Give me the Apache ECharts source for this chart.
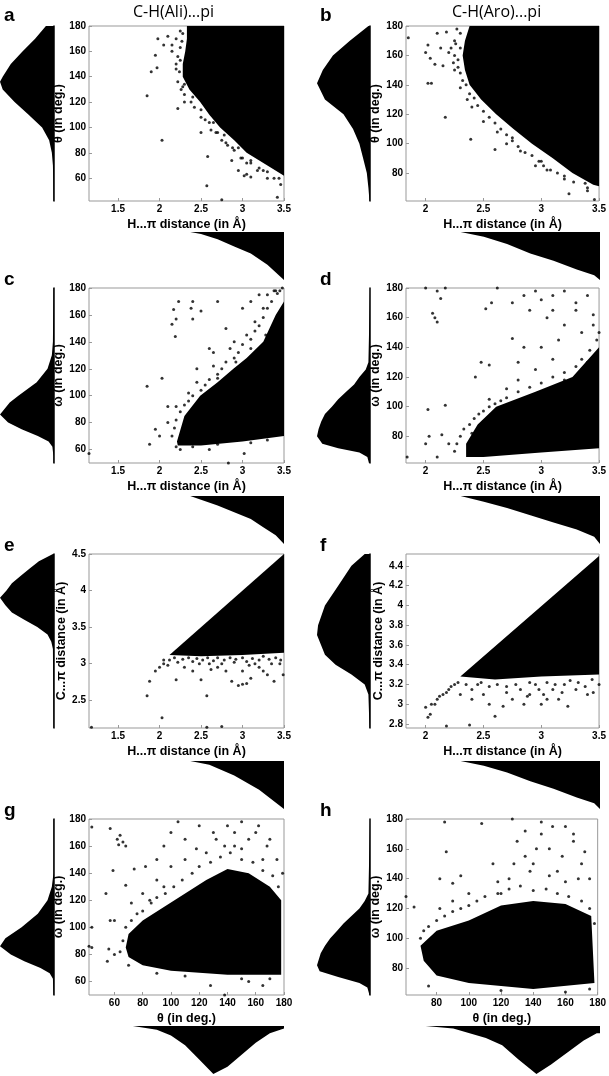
<!DOCTYPE html>
<html lang="en">
<head>
<meta charset="UTF-8">
<title>C-H...pi</title>
<script src="https://cdn.jsdelivr.net/npm/echarts@6/dist/echarts.min.js"></script>
<style>html,body{margin:0;background:#fff}#main{width:609px;height:1076px}</style>
</head>
<body>
<div id="main"></div>
<script>
// ---- data ----
// dense (solid black) regions as outlines, scattered points, marginal histogram profiles (0..1)
var aDense = [[2.33,180],[2.33,170],[2.31,160],[2.28,150],[2.28,140],[2.36,130],[2.49,120],[2.6,110],[2.73,100],[2.9,90],[3.05,80],[3.3,70],[3.5,62],[3.5,180]];
var aPts = [[1.85,125],[1.9,144],[1.95,157],[1.97,147],[2.03,90],[1.98,170],[2.05,165],[2.1,172],[2.15,160],[2.2,150],[2.22,115],[2.28,132],[2.3,120],[2.5,96],[2.58,77],[2.57,54],[2.75,43],[2.87,74],[2.95,66],[3.02,62],[3.05,63],[3.1,61],[3.2,68],[3.3,60],[3.42,45],[3.46,55],[2.6,104],[2.7,96],[2.8,88],[2.9,82],[3.0,76],[3.1,72],[3.25,66],[3.38,60],
  [2.25,176],[2.28,174],[2.2,170],[2.27,168],[2.15,165],[2.25,163],[2.22,156],[2.25,153],[2.2,146],[2.24,144],[2.22,136],[2.3,134],[2.3,126],[2.4,124],[2.42,116],[2.5,114],[2.55,106],[2.65,104],[2.68,96],[2.78,94],[2.82,86],[2.95,84],[2.98,76],[3.1,74],[3.18,66],[3.3,65],[3.44,60],[2.26,130],[2.38,120],[2.5,108],[2.62,98],[2.75,90],[2.88,84],[3.05,72]];
var aLeft = [[180,0.15],[170,0.35],[160,0.58],[150,0.8],[140,0.95],[136,1],[130,0.95],[120,0.73],[110,0.47],[100,0.22],[90,0.09],[80,0.04],[70,0.02],[60,0.015],[42,0.01]];
var aBottom = [[2.37,0],[2.5,0.04],[2.7,0.15],[2.9,0.3],[3.1,0.45],[3.3,0.68],[3.5,1]];

var bDense = [[2.38,180],[2.34,170],[2.32,160],[2.34,150],[2.38,140],[2.48,130],[2.61,120],[2.76,110],[2.92,100],[3.1,90],[3.27,80],[3.45,72],[3.5,71],[3.5,180]];
var bPts = [[1.85,172],[2.0,162],[2.02,167],[2.04,158],[2.02,141],[2.05,141],[2.08,154],[2.1,175],[2.13,165],[2.15,153],[2.18,176],[2.2,162],[2.25,170],[2.17,118],[2.39,103],[2.6,96],[2.75,104],[2.95,85],[3.05,82],[3.24,66],[3.4,68],[3.46,62],[2.25,150],[2.3,138],[2.4,125],[2.5,115],[2.7,100],[3.0,88],[3.2,78],[3.38,73],
  [2.27,178],[2.3,175],[2.26,168],[2.3,165],[2.25,160],[2.28,157],[2.28,152],[2.3,148],[2.32,143],[2.35,140],[2.38,134],[2.42,131],[2.45,126],[2.5,122],[2.55,118],[2.6,114],[2.65,110],[2.7,106],[2.75,102],[2.8,98],[2.86,94],[2.92,92],[2.98,88],[3.02,85],[3.08,82],[3.14,80],[3.2,76],[3.28,74],[3.4,70],[2.22,165],[2.24,155],[2.36,130],[2.62,108],[2.82,95]];
var bLeft = [[180,0.03],[170,0.38],[160,0.7],[150,0.89],[141,1],[130,0.85],[120,0.5],[110,0.32],[100,0.2],[90,0.13],[80,0.06],[70,0.03],[61,0.01]];
var bBottom = [[2.3,0],[2.5,0.1],[2.7,0.25],[2.9,0.45],[3.1,0.6],[3.3,0.78],[3.45,0.9],[3.5,1]];

var cDense = [[2.21,66],[2.22,63],[2.5,63],[3.0,66],[3.5,70],[3.5,170],[3.4,160],[3.25,140],[3.05,128],[2.89,120],[2.7,110],[2.49,100],[2.3,85]];
var cPts = [[1.85,107],[2.03,113],[1.88,64],[1.95,75],[2.0,70],[2.1,92],[2.15,153],[2.17,164],[2.19,144],[2.2,157],[2.23,170],[2.38,165],[2.4,157],[2.4,170],[2.5,163],[2.45,120],[2.6,135],[2.65,132],[2.7,170],[2.8,150],[2.9,140],[3.0,165],[3.1,170],[3.2,175],[3.3,175],[3.4,178],[3.02,57],[2.83,50],[1.15,57],[2.6,60],[3.15,155],[3.25,165],[3.45,178],[2.1,80],[2.2,92],[2.35,102],[2.45,110],[2.65,122],[2.85,135],[3.05,145],
  [2.15,70],[2.18,76],[2.2,82],[2.25,88],[2.3,93],[2.35,96],[2.4,100],[2.5,104],[2.55,108],[2.6,112],[2.7,116],[2.75,120],[2.8,125],[2.9,128],[2.95,132],[3.0,138],[3.1,142],[3.15,148],[3.2,152],[3.25,158],[3.3,165],[3.35,170],[3.42,176],[3.48,180],[3.35,150],[3.38,178],[3.28,145],[3.1,135],[2.92,125],[2.7,113],[2.4,62],[2.7,64],[3.1,65],[3.3,67],[2.2,62],[2.25,60]];
var cLeft = [[180,0.01],[140,0.02],[130,0.04],[120,0.12],[110,0.32],[100,0.66],[95,0.82],[86,1],[80,0.85],[75,0.6],[70,0.3],[66,0.1],[62,0.03],[55,0.01],[50,0.01]];
var cBottom = [[2.37,0],[2.5,0.08],[2.7,0.2],[2.9,0.34],[3.1,0.48],[3.25,0.65],[3.4,0.82],[3.5,1]];

var dDense = [[2.35,75],[2.35,66],[2.5,66],[3.0,69],[3.5,72],[3.5,140],[3.27,120],[2.95,110],[2.61,100],[2.45,88]];
var dPts = [[2.0,180],[2.1,178],[2.13,173],[2.17,180],[2.06,163],[2.08,160],[2.1,157],[2.02,98],[2.17,101],[2.0,75],[2.03,80],[1.84,66],[2.1,66],[2.14,81],[2.2,75],[2.48,130],[2.43,120],[2.55,128],[2.52,166],[2.57,170],[2.62,180],[2.75,146],[2.8,130],[2.85,140],[2.9,165],[3.0,172],[3.05,160],[3.1,175],[3.2,155],[3.3,165],[3.4,175],[3.45,155],[3.0,140],[3.15,145],[3.35,150],[2.7,112],[2.8,118],[2.95,125],[3.1,132],[2.55,105],
  [2.25,70],[2.27,75],[2.3,80],[2.33,85],[2.38,88],[2.42,92],[2.46,95],[2.5,97],[2.55,100],[2.6,102],[2.65,104],[2.7,106],[2.8,110],[2.9,113],[3.0,116],[3.1,120],[3.2,123],[3.3,127],[3.35,132],[3.42,138],[3.48,145],[3.5,150],[3.45,162],[3.3,170],[3.2,178],[3.1,165],[2.95,178],[2.85,175],[2.75,170],[2.4,82],[2.5,90],[2.75,102],[3.2,118],[3.4,130]];
var dLeft = [[180,0.0],[130,0.03],[125,0.08],[120,0.2],[115,0.3],[110,0.45],[105,0.6],[100,0.72],[95,0.85],[90,0.92],[85,0.97],[80,1],[75,0.9],[72,0.6],[69,0.2],[66,0.05],[62,0.02]];
var dBottom = [[2.3,0],[2.5,0.12],[2.7,0.25],[2.9,0.4],[3.1,0.55],[3.3,0.7],[3.45,0.85],[3.5,1]];

var eDense = [[2.12,3.12],[3.5,4.5],[3.5,3.15],[3.0,3.12],[2.5,3.1]];
var ePts = [[1.85,2.56],[1.88,2.76],[1.95,2.9],[2.0,2.95],[2.03,2.26],[2.05,3.0],[2.1,2.98],[2.2,2.78],[2.3,2.95],[2.4,2.9],[2.5,2.78],[2.57,2.56],[2.6,3.0],[2.7,2.95],[2.8,2.9],[2.87,2.76],[2.95,2.7],[3.0,2.72],[3.05,2.73],[3.1,2.8],[3.2,2.95],[3.3,2.85],[3.38,2.76],[3.45,3.0],[3.49,2.85],[2.57,2.13],[2.75,2.14],[1.18,2.13],[2.9,3.02],[3.15,3.0],
  [2.05,3.05],[2.12,3.05],[2.18,3.08],[2.22,3.02],[2.28,3.06],[2.35,3.08],[2.4,3.03],[2.45,3.07],[2.52,3.05],[2.58,3.08],[2.65,3.04],[2.7,3.08],[2.78,3.05],[2.85,3.08],[2.92,3.06],[3.0,3.08],[3.05,3.03],[3.12,3.07],[3.2,3.05],[3.25,3.1],[3.32,3.06],[3.4,3.08],[3.46,3.05],[2.48,3.0],[2.75,3.0],[3.08,2.98],[3.35,3.0],[2.62,2.92],[3.0,2.9],[3.25,2.9]];
var eLeft = [[4.5,0.02],[4.4,0.28],[4.3,0.45],[4.2,0.62],[4.1,0.78],[4.0,0.88],[3.9,1],[3.8,0.9],[3.7,0.78],[3.6,0.55],[3.5,0.31],[3.4,0.12],[3.3,0.05],[3.2,0.02],[2.12,0.01]];
var eBottom = [[2.37,0],[2.6,0.08],[2.9,0.3],[3.2,0.6],[3.5,1]];

var fDense = [[2.3,3.28],[3.5,4.5],[3.5,3.3],[3.0,3.28],[2.6,3.25]];
var fPts = [[2.0,2.97],[2.02,2.87],[2.04,2.9],[2.05,3.0],[2.1,3.05],[2.15,3.1],[2.2,3.15],[2.25,3.2],[2.18,2.78],[2.38,2.79],[2.3,3.1],[2.4,3.05],[2.5,3.1],[2.55,3.0],[2.6,2.88],[2.67,2.98],[2.75,3.05],[2.85,3.0],[2.9,3.1],[3.0,3.0],[3.05,3.05],[3.1,3.15],[3.23,2.98],[3.3,3.15],[3.4,3.1],[3.45,3.12],[2.45,3.2],[2.7,3.18],[2.95,3.2],[3.2,3.2],
  [2.08,3.0],[2.12,3.08],[2.18,3.12],[2.22,3.18],[2.28,3.22],[2.35,3.2],[2.4,3.15],[2.48,3.22],[2.55,3.18],[2.62,3.2],[2.7,3.12],[2.78,3.2],[2.82,3.15],[2.9,3.22],[2.98,3.15],[3.05,3.22],[3.12,3.2],[3.18,3.12],[3.25,3.24],[3.32,3.22],[3.38,3.18],[3.44,3.25],[3.5,3.2],[2.88,3.08],[3.02,3.1],[3.15,3.05]];
var fLeft = [[4.52,0.1],[4.4,0.35],[4.2,0.6],[4.0,0.85],[3.8,0.98],[3.7,1],[3.5,0.85],[3.4,0.65],[3.3,0.35],[3.2,0.1],[3.1,0.03],[2.76,0.01]];
var fBottom = [[2.3,0],[2.5,0.1],[2.7,0.24],[2.9,0.42],[3.1,0.58],[3.3,0.76],[3.45,0.88],[3.5,1]];

var gDense = [[68,85],[70,95],[80,105],[95,115],[110,125],[125,135],[140,143],[155,140],[170,130],[178,120],[178,65],[140,65],[100,68],[80,72],[70,78]];
var gPts = [[44,174],[57,173],[62,165],[63,161],[64,168],[66,163],[68,160],[59,142],[54,125],[57,105],[60,105],[44,100],[42,86],[44,85],[55,75],[56,84],[60,80],[68,131],[74,143],[82,145],[90,150],[95,160],[100,170],[105,178],[120,175],[130,170],[140,175],[150,178],[160,170],[170,165],[175,150],[128,57],[138,50],[155,60],[165,57],[85,120],[95,130],[110,150],[125,155],[145,160],[165,150],
  [66,90],[68,100],[72,105],[76,110],[80,112],[86,118],[90,122],[96,125],[102,130],[108,135],[115,140],[120,145],[128,148],[135,152],[142,155],[150,150],[158,148],[165,142],[172,138],[176,130],[179,140],[132,165],[145,170],[155,165],[162,175],[138,160],[150,158],[168,160],[118,158],[110,165],[100,145],[90,135],[80,125],[72,118],[64,82],[70,72],[90,66],[110,64],[150,62],[170,62]];
var gLeft = [[180,0.01],[140,0.01],[130,0.04],[120,0.12],[110,0.3],[100,0.6],[92,0.9],[86,1],[80,0.8],[75,0.55],[70,0.25],[66,0.08],[62,0.02],[50,0.01]];
var gBottom = [[73,0],[90,0.08],[100,0.2],[110,0.4],[120,0.7],[130,1],[140,0.85],[150,0.6],[160,0.35],[170,0.15],[180,0.05]];

var hDense = [[72,85],[70,95],[80,105],[100,112],[120,122],[140,125],[160,123],[176,115],[178,70],[140,66],[100,70],[80,75]];
var hPts = [[61,128],[66,121],[86,158],[82,140],[90,137],[95,142],[108,177],[127,180],[130,165],[135,155],[140,150],[145,170],[150,160],[155,145],[160,175],[165,165],[170,150],[175,140],[120,130],[115,150],[125,140],[85,178],
  [70,100],[72,105],[75,108],[80,112],[85,115],[90,118],[95,120],[100,122],[105,125],[110,128],[118,130],[125,133],[132,135],[140,132],[148,133],[155,130],[162,128],[170,125],[175,120],[178,110],[138,145],[142,160],[150,142],[158,155],[165,170],[168,140],[172,158],[152,175],[135,172],[128,150],[145,178],[160,138],[118,138],[100,130],[90,125],[82,120],[75,68],[120,65],[160,64],[175,66]];
var hLeft = [[180,0],[130,0.03],[125,0.1],[120,0.2],[115,0.35],[110,0.5],[105,0.62],[100,0.75],[95,0.85],[90,0.93],[82,1],[78,0.95],[74,0.6],[70,0.2],[67,0.05],[62,0.01]];
var hBottom = [[73,0],[90,0.05],[100,0.15],[110,0.25],[120,0.4],[130,0.7],[141,1],[150,0.8],[160,0.55],[170,0.3],[178,0.15],[180,0.15]];

var hpiTicks = [1.5, 2, 2.5, 3, 3.5];
var hpiTicksR = [2, 2.5, 3, 3.5];
var angTicksA = [60, 80, 100, 120, 140, 160, 180];
var angTicksB = [80, 100, 120, 140, 160, 180];
var cpiTicksE = [2.5, 3, 3.5, 4, 4.5];
var cpiTicksF = [2.8, 3, 3.2, 3.4, 3.6, 3.8, 4, 4.2, 4.4];
var thTicksG = [60, 80, 100, 120, 140, 160, 180];
var thTicksH = [80, 100, 120, 140, 160, 180];

var HPI = 'H...\u03c0 distance (in \u00c5)';
var TH = '\u03b8 (in deg.)';
var OM = '\u03c9 (in deg.)';
var CPI = 'C...\u03c0 distance (in \u00c5)';

var panels = [
  {k:'a', col:0, row:0, x:[1.15,3.5], y:[42,180], xt:hpiTicks, yt:angTicksA, xn:HPI, yn:TH, gap:12, dense:aDense, pts:aPts, left:aLeft, bottom:aBottom},
  {k:'b', col:1, row:0, x:[1.83,3.5], y:[61,180], xt:hpiTicksR, yt:angTicksB, xn:HPI, yn:TH, gap:22, dense:bDense, pts:bPts, left:bLeft, bottom:bBottom},
  {k:'c', col:0, row:1, x:[1.15,3.5], y:[50,180], xt:hpiTicks, yt:angTicksA, xn:HPI, yn:OM, gap:12, dense:cDense, pts:cPts, left:cLeft, bottom:cBottom},
  {k:'d', col:1, row:1, x:[1.83,3.5], y:[62,180], xt:hpiTicksR, yt:angTicksB, xn:HPI, yn:OM, gap:22, dense:dDense, pts:dPts, left:dLeft, bottom:dBottom},
  {k:'e', col:0, row:2, x:[1.15,3.5], y:[2.12,4.5], xt:hpiTicks, yt:cpiTicksE, xn:HPI, yn:CPI, gap:19, dense:eDense, pts:ePts, left:eLeft, bottom:eBottom},
  {k:'f', col:1, row:2, x:[1.83,3.5], y:[2.76,4.52], xt:hpiTicksR, yt:cpiTicksF, xn:HPI, yn:CPI, gap:15, dense:fDense, pts:fPts, left:fLeft, bottom:fBottom},
  {k:'g', col:0, row:3, x:[42,180], y:[50,180], xt:thTicksG, yt:angTicksA, xn:TH, yn:OM, gap:17, dense:gDense, pts:gPts, left:gLeft, bottom:gBottom},
  {k:'h', col:1, row:3, x:[61,180], y:[62,180], xt:thTicksH, yt:angTicksB, xn:TH, yn:OM, gap:21, dense:hDense, pts:hPts, left:hLeft, bottom:hBottom}
];

// layout
var plotLeft = [89, 406], plotW = [195, 194];
var histLeft = [0, 317], histW = [54, 53];
var rowTop = [26, 288, 554, 819], rowH = [175, 175, 174, 176];
var botTop = [232, 496, 761, 1026], botH = 48;

var grids = [], xAxes = [], yAxes = [], series = [], graphics = [];

function polySeries(gi, pts) {
  return {
    type: 'custom', xAxisIndex: gi, yAxisIndex: gi, clip: true, silent: true,
    data: pts,
    renderItem: function (params, api) {
      if (params.dataIndex > 0) return;
      return {type: 'polygon', shape: {points: pts.map(function (p) { return api.coord(p); })},
        style: {fill: '#000'}};
    }
  };
}

var lblStyle = {color: '#000', fontWeight: 'bold', fontSize: 10, fontFamily: 'Arial, Liberation Sans'};
var nameStyle = {color: '#000', fontWeight: 'bold', fontSize: 12.5, fontFamily: 'Arial, Liberation Sans'};
function hidden(o) {
  o.axisLine = {show: false}; o.axisTick = {show: false}; o.axisLabel = {show: false}; o.splitLine = {show: false};
  return o;
}

panels.forEach(function (p) {
  var c = p.col, r = p.row;
  // main scatter grid
  var gi = grids.length;
  grids.push({left: plotLeft[c], top: rowTop[r], width: plotW[c], height: rowH[r], show: true, borderColor: '#999', borderWidth: 1});
  xAxes.push({gridIndex: gi, type: 'value', min: p.x[0], max: p.x[1], name: p.xn, nameLocation: 'middle', nameGap: 17, nameTextStyle: nameStyle,
    axisLine: {show: false}, splitLine: {show: false},
    axisTick: {inside: true, length: 3, lineStyle: {color: '#999'}, customValues: p.xt},
    axisLabel: Object.assign({customValues: p.xt, margin: 3}, lblStyle)});
  yAxes.push({gridIndex: gi, type: 'value', min: p.y[0], max: p.y[1], name: p.yn, nameLocation: 'middle', nameGap: p.gap, nameTextStyle: nameStyle,
    axisLine: {show: false}, splitLine: {show: false},
    axisTick: {inside: true, length: 3, lineStyle: {color: '#999'}, customValues: p.yt},
    axisLabel: Object.assign({customValues: p.yt, margin: 3}, lblStyle)});
  series.push(polySeries(gi, p.dense));
  series.push({type: 'scatter', xAxisIndex: gi, yAxisIndex: gi, data: p.pts, symbolSize: 3, itemStyle: {color: '#000'}, silent: true});

  // left marginal histogram
  var li = grids.length;
  grids.push({left: histLeft[c], top: rowTop[r], width: histW[c], height: rowH[r]});
  xAxes.push(hidden({gridIndex: li, type: 'value', min: 0, max: 1, inverse: true}));
  var ly = hidden({gridIndex: li, type: 'value', min: p.y[0], max: p.y[1], position: 'right'});
  ly.axisLine = {show: true, onZero: false, lineStyle: {color: '#000', width: 1.5}};
  yAxes.push(ly);
  var lp = p.left.map(function (d) { return [d[1], d[0]]; });
  lp.push([0, p.left[p.left.length - 1][0]], [0, p.left[0][0]]);
  series.push(polySeries(li, lp));

  // bottom marginal histogram
  var bi = grids.length;
  grids.push({left: plotLeft[c], top: botTop[r], width: plotW[c], height: botH});
  xAxes.push(hidden({gridIndex: bi, type: 'value', min: p.x[0], max: p.x[1]}));
  yAxes.push(hidden({gridIndex: bi, type: 'value', min: 0, max: 1, inverse: true}));
  var bp = p.bottom.slice();
  bp.push([p.bottom[p.bottom.length - 1][0], 0], [p.bottom[0][0], 0]);
  series.push(polySeries(bi, bp));

  graphics.push({type: 'text', left: c == 0 ? 4 : 320, top: rowTop[r] - 20 + (r == 0 ? 0 : 2),
    style: {text: p.k, font: 'bold 19px Arial, Liberation Sans', fill: '#000'}});
});

graphics.push({type: 'text', left: 133, top: 4, style: {text: 'C-H(Ali)...pi', font: '16px "Open Sans", Arial', fill: '#000'}});
graphics.push({type: 'text', left: 452, top: 4, style: {text: 'C-H(Aro)...pi', font: '16px "Open Sans", Arial', fill: '#000'}});

var chart = echarts.init(document.getElementById('main'));
chart.setOption({
  animation: false,
  backgroundColor: '#fff',
  grid: grids,
  xAxis: xAxes,
  yAxis: yAxes,
  series: series,
  graphic: graphics
});
</script>
</body>
</html>
